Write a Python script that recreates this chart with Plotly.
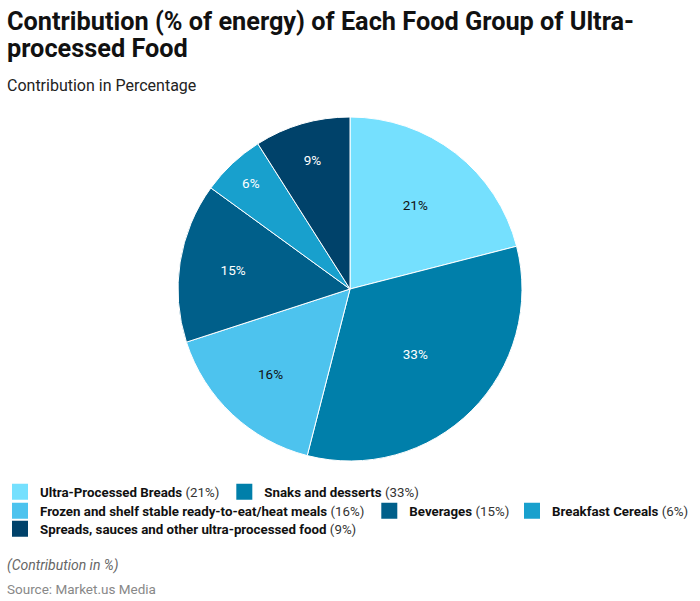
import plotly.graph_objects as go

categories = [
    "Ultra-Processed Breads",
    "Snaks and desserts",
    "Frozen and shelf stable ready-to-eat/heat meals",
    "Beverages",
    "Breakfast Cereals",
    "Spreads, sauces and other ultra-processed food",
]
values = [21, 33, 16, 15, 6, 9]
colors = ["#75E0FE", "#007FAA", "#4DC3EE", "#005F8A", "#18A0CD", "#00426A"]
text_colors = ["#111111", "#FFFFFF", "#111111", "#FFFFFF", "#FFFFFF", "#FFFFFF"]

# which legend box (row / block of the wrapped legend) each category sits in
legend_ids = ["legend", "legend", "legend2", "legend2", "legend4", "legend3"]

W, H = 700, 601
MT, MB = 117, 140
PH = H - MT - MB


def py(px):
    return (H - MB - px) / PH


fig = go.Figure()
fig.add_trace(
    go.Pie(
        labels=categories,
        values=values,
        sort=False,
        direction="clockwise",
        rotation=0,
        showlegend=False,
        marker=dict(colors=colors, line=dict(color="#FFFFFF", width=1)),
        texttemplate="%{value}%",
        textposition="inside",
        insidetextorientation="horizontal",
        textfont=dict(family="Roboto", size=13.5, color=text_colors),
        hovertemplate="%{label}: %{value}%<extra></extra>",
    )
)

for c, v, col, lg in zip(categories, values, colors, legend_ids):
    fig.add_trace(
        go.Scatter(
            x=[None], y=[None], mode="markers",
            name=f"<b>{c}</b> <span style='color:#333333'>({v}%)</span>",
            marker=dict(symbol="square", size=16, color=col),
            legend=lg, showlegend=True, hoverinfo="skip",
        )
    )

legend_common = dict(
    orientation="h", xanchor="left", yanchor="middle",
    font=dict(family="Roboto", size=13.3, color="#111111"),
    itemwidth=30, bgcolor="rgba(0,0,0,0)",
)

fig.update_layout(
    width=W,
    height=H,
    margin=dict(l=0, r=0, t=MT, b=MB),
    paper_bgcolor="#FFFFFF",
    plot_bgcolor="#FFFFFF",
    font=dict(family="Roboto", color="#222222"),
    xaxis=dict(visible=False),
    yaxis=dict(visible=False),
    legend=dict(legend_common, x=0, y=py(492)),
    legend2=dict(legend_common, x=0, y=py(511)),
    legend4=dict(legend_common, x=512 / W, y=py(511)),
    legend3=dict(legend_common, x=0, y=py(529)),
    annotations=[
        dict(
            text="<b>Contribution (% of energy) of Each Food Group of Ultra-</b>",
            x=0, y=py(22), xref="paper", yref="paper", xanchor="left", yanchor="middle",
            xshift=5, showarrow=False, align="left",
            font=dict(family="Roboto", size=25.3, color="#111111"),
        ),
        dict(
            text="<b>processed Food</b>",
            x=0, y=py(48), xref="paper", yref="paper", xanchor="left", yanchor="middle",
            xshift=5, showarrow=False, align="left",
            font=dict(family="Roboto", size=25.3, color="#111111"),
        ),
        dict(
            text="Contribution in Percentage",
            x=0, y=py(85), xref="paper", yref="paper", xanchor="left", yanchor="middle",
            xshift=5, showarrow=False, align="left",
            font=dict(family="Roboto", size=16, color="#222222"),
        ),
        dict(
            text="<i>(Contribution in %)</i>",
            x=0, y=py(565), xref="paper", yref="paper", xanchor="left", yanchor="middle",
            xshift=5, showarrow=False, align="left",
            font=dict(family="Roboto", size=14, color="#666666"),
        ),
        dict(
            text="Source: Market.us Media",
            x=0, y=py(589), xref="paper", yref="paper", xanchor="left", yanchor="middle",
            xshift=5, showarrow=False, align="left",
            font=dict(family="Roboto", size=13.5, color="#888888"),
        ),
    ],
)

fig.write_html(
    "out.html",
    config={"displayModeBar": False},
    post_script="document.body.style.margin='0px';",
)
